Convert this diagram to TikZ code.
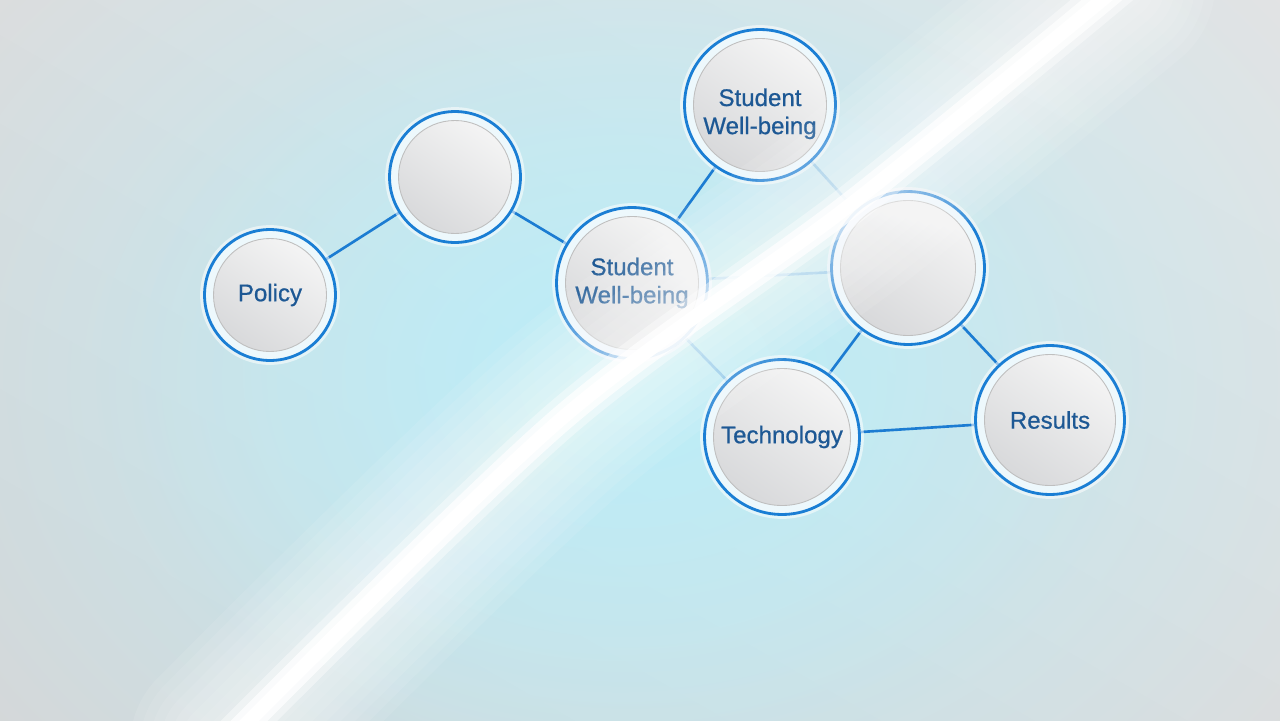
\documentclass[tikz,border=0pt]{standalone}
\usepackage{fontspec}
\setmainfont{Liberation Sans}[FakeBold=0.7]
\usetikzlibrary{positioning, backgrounds, shadings, fadings}

\definecolor{bggray}{HTML}{D6D7D8}
\definecolor{bglight}{HTML}{E2E3E4}
\definecolor{glowcyan}{HTML}{BAEFFA}
\definecolor{ringblue}{HTML}{1A7ED4}
\definecolor{linkblue}{HTML}{1C7CD2}
\definecolor{bandpale}{HTML}{EDF8FC}
\definecolor{diskhi}{HTML}{F6F6F6}
\definecolor{disklo}{HTML}{D6D7D9}
\definecolor{textblue}{HTML}{1D5894}

\tikzfading[name=glowfade, inner color=transparent!0, outer color=transparent!100]

\pgfdeclarelayer{bg}
\pgfdeclarelayer{fg}
\pgfsetlayers{bg,background,main,fg}

\begin{document}
\begin{tikzpicture}[
    x=0.02cm, y=-0.02cm,
    bubble/.style={circle, draw=ringblue, line width=1.6pt, fill=bandpale,
        minimum size=#1*0.04cm, inner sep=0pt, align=center, text=textblue,
        font=\fontsize{13.7}{16}\selectfont,
        preaction={draw=white, line width=5pt, draw opacity=0.55},
        path picture={\shade[top color=diskhi, bottom color=disklo, shading angle=-35,
            draw=gray!50, line width=0.5pt] (path picture bounding box.center) circle (#1-9);}},
    link/.style={draw=linkblue, line width=1.5pt},
    faint/.style={link, draw opacity=0.35}
]

\useasboundingbox (0,0) rectangle (1280,720);

% Backdrop with cyan glow
\begin{pgfonlayer}{bg}
\begin{scope}
\clip (0,0) rectangle (1280,720);
\shade[top color=bglight, bottom color=bggray, shading angle=-30] (0,0) rectangle (1280,720);
\fill[glowcyan, path fading=glowfade, opacity=0.85] (630,380) ellipse (820 and 620);
\fill[glowcyan, path fading=glowfade, opacity=0.6] (620,370) ellipse (520 and 400);
\end{scope}
\end{pgfonlayer}

% Bubbles
\node[bubble=65.5] (policy) at (270,295) {Policy};
\node[bubble=65.5] (hubL) at (455,177) {};
\node[bubble=75.5] (wellC) at (632,283) {Student\\Well-being};
\node[bubble=75.5] (wellT) at (760,105) {\rule{0pt}{20pt}Student\\Well-being};
\node[bubble=76.5] (hubR) at (908,268) {};
\node[bubble=77.5] (tech) at (782,437) {Technology};
\node[bubble=74.5] (results) at (1050,420) {Results};

% Links
\begin{pgfonlayer}{background}
\draw[link] (policy) -- (hubL);
\draw[link] (hubL) -- (wellC);
\draw[link] (wellC) -- (wellT);
\draw[faint] (wellT) -- (hubR);
\draw[faint] (wellC) -- (hubR);
\draw[faint] (wellC) -- (tech);
\draw[link] (hubR) -- (tech);
\draw[link] (hubR) -- (results);
\draw[link] (tech) -- (results);
\end{pgfonlayer}

% Light streak
\begin{pgfonlayer}{fg}
\begin{scope}
\clip (0,0) rectangle (1280,720);
\foreach \w in {190,170,...,50}
    \draw[white, line width=\w*0.02cm, opacity=0.09, line cap=round]
        plot[smooth] coordinates {(225,745) (560,420) (850,205) (1120,-15)};
\foreach \w/\o in {40/0.4, 26/0.75, 14/1}
    \draw[white, line width=\w*0.02cm, opacity=\o, line cap=round]
        plot[smooth] coordinates {(225,745) (560,420) (850,205) (1120,-15)};
\end{scope}
\end{pgfonlayer}

\end{tikzpicture}
\end{document}
